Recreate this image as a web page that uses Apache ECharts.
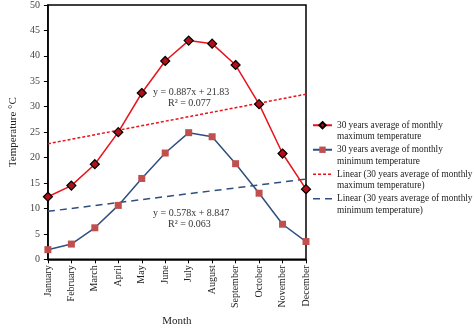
<!DOCTYPE html>
<html>
<head>
<meta charset="utf-8">
<script src="https://cdn.jsdelivr.net/npm/echarts@6/dist/echarts.min.js"></script>
<style>
  html, body { margin: 0; padding: 0; background: #fff; }
  #chart { width: 474px; height: 332px; }
</style>
</head>
<body>
<div id="chart"></div>
<script>
// Monthly temperature averages over 30 years
const months = ['January', 'February', 'March', 'April', 'May', 'June',
  'July', 'August', 'September', 'October', 'November', 'December'];
const maxTemp = [12.3, 14.5, 18.7, 25.0, 32.7, 39.0, 43.0, 42.4, 38.2, 30.5, 20.8, 13.8];
const minTemp = [1.9, 3.0, 6.2, 10.6, 15.9, 20.9, 24.9, 24.1, 18.8, 13.0, 6.9, 3.5];
// Linear trend end points (January, December): y = 0.887x + 21.83 and y = 0.578x + 8.847
const maxTrend = [22.72, null, null, null, null, null, null, null, null, null, null, 32.47];
const minTrend = [9.43, null, null, null, null, null, null, null, null, null, null, 15.78];
const yTicks = [0, 5, 10, 15, 20, 25, 30, 35, 40, 45, 50];

const names = [
  '30 years average of monthly\nmaximum temperature',
  '30 years average of monthly\nminimum temperature',
  'Linear (30 years average of monthly\nmaximum temperature)',
  'Linear (30 years average of monthly\nminimum temperature)'
];

const RED = '#e8141c';
const BLUE = '#2f4f7f';
const MAX_DASH = [3, 2];
const MIN_DASH = [7, 5];

const serif = '"Liberation Serif", "DejaVu Serif", serif';
const chart = echarts.init(document.getElementById('chart'));

chart.setOption({
  animation: false,
  textStyle: { fontFamily: serif },
  grid: {
    left: 41, right: 168, top: 5, bottom: 68,
    show: true, borderColor: '#000', borderWidth: 1.5
  },
  xAxis: {
    type: 'category',
    data: months,
    boundaryGap: false,
    name: 'Month',
    nameLocation: 'middle',
    nameGap: 54,
    nameTextStyle: { fontFamily: serif, fontSize: 11, color: '#222' },
    axisLine: { lineStyle: { color: '#000', width: 1.5 } },
    axisTick: { show: true, alignWithLabel: true, length: 4, lineStyle: { color: '#000' } },
    axisLabel: { rotate: 90, fontFamily: serif, fontSize: 10, color: '#222', margin: 6, interval: 0 },
    splitLine: { show: false }
  },
  yAxis: {
    type: 'value',
    min: yTicks[0],
    max: yTicks[yTicks.length - 1],
    interval: yTicks[1] - yTicks[0],
    name: 'Temperature °C',
    nameLocation: 'middle',
    nameGap: 28,
    nameTextStyle: { fontFamily: serif, fontSize: 11, color: '#222' },
    axisLine: { show: true, lineStyle: { color: '#000', width: 1.5 } },
    axisTick: { show: true, length: 4, lineStyle: { color: '#000' } },
    axisLabel: { fontFamily: serif, fontSize: 10, color: '#444', margin: 8 },
    splitLine: { show: false }
  },
  legend: {
    orient: 'vertical',
    left: 307,
    top: 103,
    itemWidth: 19,
    itemHeight: 8,
    itemGap: -10,
    // a leading blank line keeps the icon level with the first text line
    formatter: (name) => '\n' + name,
    data: [
      { name: names[0] },
      { name: names[1] },
      { name: names[2], itemStyle: { opacity: 0 }, lineStyle: { type: MAX_DASH, color: RED, width: 1.5 } },
      { name: names[3], itemStyle: { opacity: 0 }, lineStyle: { type: MIN_DASH, color: BLUE, width: 1.5 } }
    ],
    textStyle: { fontFamily: serif, fontSize: 9.3, color: '#222', lineHeight: 11.5 }
  },
  graphic: [
    { type: 'text', left: 153, top: 87, style: { text: 'y = 0.887x + 21.83', font: '10px ' + serif, fill: '#333' } },
    { type: 'text', left: 168, top: 98, style: { text: 'R² = 0.077', font: '10px ' + serif, fill: '#333' } },
    { type: 'text', left: 153, top: 208, style: { text: 'y = 0.578x + 8.847', font: '10px ' + serif, fill: '#333' } },
    { type: 'text', left: 168, top: 219, style: { text: 'R² = 0.063', font: '10px ' + serif, fill: '#333' } }
  ],
  series: [
    {
      name: names[0],
      type: 'line',
      data: maxTemp,
      symbol: 'diamond',
      symbolSize: 9,
      lineStyle: { color: RED, width: 1.5 },
      itemStyle: { color: '#b0101a', borderColor: '#000', borderWidth: 1.2 },
      z: 4
    },
    {
      name: names[1],
      type: 'line',
      data: minTemp,
      symbol: 'rect',
      symbolSize: 7,
      lineStyle: { color: BLUE, width: 1.5 },
      itemStyle: { color: '#c0504d', borderColor: '#c0504d', borderWidth: 0 },
      z: 3
    },
    {
      name: names[2],
      type: 'line',
      data: maxTrend,
      connectNulls: true,
      symbol: 'none',
      lineStyle: { color: RED, width: 1.5, type: MAX_DASH },
      itemStyle: { color: RED },
      z: 2
    },
    {
      name: names[3],
      type: 'line',
      data: minTrend,
      connectNulls: true,
      symbol: 'none',
      lineStyle: { color: BLUE, width: 1.5, type: MIN_DASH },
      itemStyle: { color: BLUE },
      z: 2
    }
  ]
});
</script>
</body>
</html>
